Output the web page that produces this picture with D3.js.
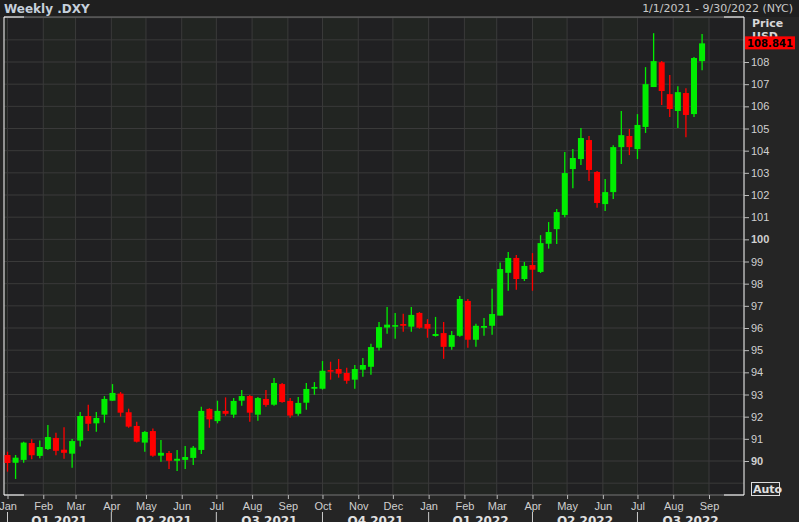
<!DOCTYPE html>
<html>
<head>
<meta charset="utf-8">
<script src="https://cdn.jsdelivr.net/npm/d3@7"></script>
<style>
  body { margin: 0; background: #252525; }
  svg { display: block; font-family: Tahoma, "DejaVu Sans", sans-serif; }
</style>
</head>
<body>
<div id="chart"></div>
<script>
// weekly OHLC, first week 1/1/2021
const opens = [90.27, 89.92, 90.05, 90.81, 90.23, 90.54, 91.04, 90.51, 90.33, 90.92, 92.03, 91.70, 92.09, 92.72, 93.04, 92.20, 91.58, 90.83, 91.35, 90.24, 90.36, 90.01, 90.05, 90.14,
  90.50, 92.35, 91.80, 92.26, 92.09, 92.72, 92.93, 92.09, 92.80, 92.54, 93.47, 92.71, 92.13, 92.63, 93.26, 93.26, 94.10, 94.15, 93.97, 93.67, 94.12, 94.25, 95.11, 96.02,
  96.06, 96.18, 96.06, 96.68, 96.18, 95.64, 95.77, 95.15, 95.65, 97.22, 95.47, 96.01, 96.10, 96.56, 98.49, 99.16, 98.21, 98.84, 98.53, 99.80, 100.46,
  101.10, 103.17, 103.62, 104.48, 103.04, 101.59, 102.13, 104.16, 104.66, 104.07, 105.07, 106.87, 107.99, 106.55, 105.79, 106.60, 105.65, 108.04];
const highs = [90.42, 90.27, 90.87, 90.98, 90.92, 91.62, 91.28, 91.52, 90.99, 92.21, 92.54, 92.21, 92.93, 93.47, 93.11, 92.36, 91.77, 91.35, 91.47, 90.95, 90.45, 90.50, 90.68, 90.68,
  92.45, 92.38, 92.72, 92.87, 92.84, 93.20, 92.98, 92.89, 93.20, 93.74, 93.52, 92.84, 92.89, 93.52, 93.56, 94.51, 94.48, 94.60, 94.21, 94.33, 94.65, 95.29, 96.27, 96.95,
  96.68, 96.64, 96.95, 96.72, 96.40, 96.50, 96.27, 95.86, 97.44, 97.31, 96.19, 96.45, 97.77, 98.95, 99.43, 99.29, 98.98, 99.38, 100.19, 100.78, 101.37,
  103.94, 104.07, 105.02, 104.66, 103.08, 102.72, 104.25, 105.79, 104.98, 105.65, 107.77, 109.30, 108.04, 107.41, 106.91, 106.82, 108.22, 109.26];
const lows = [89.52, 89.19, 89.92, 90.08, 90.12, 90.50, 90.26, 90.10, 89.70, 90.65, 91.35, 91.32, 91.73, 92.72, 92.00, 91.50, 90.83, 90.42, 90.19, 89.97, 89.64, 89.55, 89.64, 89.82,
  90.32, 91.50, 91.70, 92.04, 91.95, 92.49, 91.77, 91.82, 92.45, 92.49, 92.63, 91.95, 92.04, 92.31, 92.99, 93.22, 93.67, 93.76, 93.49, 93.26, 93.80, 93.89, 94.98, 95.74,
  95.52, 95.83, 95.83, 95.97, 95.56, 95.61, 94.61, 95.02, 95.61, 95.11, 95.15, 95.65, 95.70, 96.56, 97.68, 97.73, 98.12, 97.68, 98.48, 99.58, 99.79,
  101.00, 102.31, 103.35, 102.63, 101.43, 101.28, 101.82, 103.40, 103.80, 103.62, 104.80, 106.87, 106.06, 105.52, 105.02, 104.61, 105.52, 107.63];
const closes = [89.91, 90.15, 90.83, 90.26, 90.63, 91.08, 90.46, 90.37, 90.90, 92.03, 91.68, 91.94, 92.80, 93.07, 92.18, 91.55, 90.87, 91.31, 90.24, 90.37, 90.01, 90.10, 90.18, 90.60,
  92.26, 91.88, 92.26, 92.13, 92.71, 92.93, 92.18, 92.84, 92.53, 93.52, 92.66, 92.05, 92.62, 93.25, 93.34, 94.07, 94.06, 93.94, 93.62, 94.15, 94.33, 95.14, 96.04, 96.15,
  96.13, 96.10, 96.59, 96.01, 95.97, 95.73, 95.15, 95.68, 97.31, 95.47, 96.10, 96.09, 96.63, 98.66, 99.16, 98.21, 98.80, 98.63, 99.83, 100.33, 101.23,
  102.99, 103.67, 104.57, 103.13, 101.64, 102.13, 104.16, 104.70, 104.16, 105.16, 107.00, 108.04, 106.69, 105.88, 106.64, 105.61, 108.18, 108.841];
const priceTicks = [90, 91, 92, 93, 94, 95, 96, 97, 98, 99, 100, 101, 102, 103, 104, 105, 106, 107, 108];
const quarterLabels = ['Q1 2021', 'Q2 2021', 'Q3 2021', 'Q4 2021', 'Q1 2022', 'Q2 2022', 'Q3 2022'];

const W = 799, H = 522;
const pL = 4, pR = 744, pT = 17, pB = 495;
const start = new Date(2021, 0, 1);
const candles = opens.map((o, i) => ({
  date: d3.timeDay.offset(start, 7 * i), o, h: highs[i], l: lows[i], c: closes[i],
}));

const x = d3.scaleTime()
  .domain([new Date(2021, 0, 1), new Date(2022, 8, 1)])
  .range([7.5, 709]);
const y = d3.scaleLinear().domain([90, 108]).range([461, 62]);

const svg = d3.select('#chart').append('svg').attr('width', W).attr('height', H);
svg.append('rect').attr('width', W).attr('height', H).attr('fill', '#252525');
svg.append('rect').attr('width', W).attr('height', pT).attr('fill', '#1f1f1f');

// plot background, monthly bands
const plot = svg.append('g');
plot.append('rect').attr('x', pL).attr('y', pT).attr('width', pR - pL).attr('height', pB - pT)
  .attr('fill', '#202022');
const months = d3.timeMonth.range(new Date(2020, 11, 1), new Date(2022, 10, 1));
plot.selectAll('rect.band').data(months.filter((m, i) => i % 2 === 0)).enter().append('rect')
  .attr('class', 'band')
  .attr('x', d => Math.max(pL, x(d)))
  .attr('y', pT)
  .attr('width', d => Math.max(0, Math.min(pR, x(d3.timeMonth.offset(d, 1))) - Math.max(pL, x(d))))
  .attr('height', pB - pT)
  .attr('fill', '#222522');

const tickMonths = d3.timeMonth.range(new Date(2021, 0, 1), new Date(2022, 8, 2));
plot.selectAll('line.vg').data(tickMonths).enter().append('line')
  .attr('x1', d => x(d)).attr('x2', d => x(d)).attr('y1', pT).attr('y2', pB)
  .attr('stroke', '#3a3a3a');
plot.selectAll('line.hg').data(d3.range(89, 111)).enter().append('line')
  .attr('x1', pL).attr('x2', pR).attr('y1', d => y(d)).attr('y2', d => y(d))
  .attr('stroke', '#3a3a3a');

// frame
const frame = [
  [pL, pT, pR, pT, '#777'], [pL, pB, pR, pB, '#777'],
  [pL, pT, pL, pB, '#fff'], [pR, pT, pR, pB, '#fff'],
  [pL, pT, pL + 20, pT, '#fff'], [pL, pB, pL + 20, pB, '#fff'],
  [pR - 20, pB, pR, pB, '#fff'], [pR - 20, pT, pR, pT, '#fff'],
];
svg.selectAll('line.frame').data(frame).enter().append('line')
  .attr('x1', d => d[0]).attr('y1', d => d[1]).attr('x2', d => d[2]).attr('y2', d => d[3])
  .attr('stroke', d => d[4]);

// candles
const col = d => d.c >= d.o ? '#00ee00' : '#ff0000';
const cg = svg.append('g');
cg.selectAll('line').data(candles).enter().append('line')
  .attr('x1', d => x(d.date)).attr('x2', d => x(d.date))
  .attr('y1', d => y(d.h)).attr('y2', d => y(d.l))
  .attr('stroke', col).attr('stroke-width', 1.3);
cg.selectAll('rect').data(candles).enter().append('rect')
  .attr('x', d => x(d.date) - 3)
  .attr('width', 6)
  .attr('y', d => y(Math.max(d.o, d.c)))
  .attr('height', d => Math.max(1.5, Math.abs(y(d.o) - y(d.c))))
  .attr('fill', col);

// right axis
const ya = svg.append('g').attr('transform', `translate(${pR},0)`)
  .call(d3.axisRight(y).tickValues(priceTicks).tickSize(5).tickFormat(d3.format('d')));
ya.select('.domain').remove();
ya.selectAll('line').attr('stroke', '#bbb');
ya.selectAll('text').attr('fill', '#d0d0d0').attr('font-size', 11).attr('x', 7)
  .attr('font-weight', d => d % 10 === 0 ? 'bold' : 'normal');
svg.append('text').attr('x', 752).attr('y', 27).attr('fill', '#d8d8d8').attr('font-size', 11)
  .attr('font-weight', 'bold').text('Price');
svg.append('text').attr('x', 752).attr('y', 40).attr('fill', '#d8d8d8').attr('font-size', 11)
  .attr('font-weight', 'bold').text('USD');
const last = candles[candles.length - 1];
svg.append('rect').attr('x', 745).attr('y', y(last.c) - 7).attr('width', 50).attr('height', 13).attr('fill', '#ff0000');
svg.append('text').attr('x', 747).attr('y', y(last.c) + 4).attr('fill', '#000').attr('font-size', 11)
  .attr('font-weight', 'bold').attr('textLength', 46).attr('lengthAdjust', 'spacingAndGlyphs')
  .text(d3.format('.3f')(last.c));
svg.append('rect').attr('x', 751.5).attr('y', 482.5).attr('width', 28).attr('height', 13)
  .attr('fill', 'none').attr('stroke', '#ddd');
svg.append('text').attr('x', 753).attr('y', 493).attr('fill', '#e0e0e0').attr('font-size', 11)
  .attr('font-weight', 'bold').text('Auto');

// bottom axis
const xa = svg.append('g').attr('transform', `translate(0,${pB})`)
  .call(d3.axisBottom(x).tickValues(tickMonths).tickSize(4).tickFormat(d3.timeFormat('%b')));
xa.select('.domain').remove();
xa.selectAll('line').attr('stroke', '#bbb');
xa.selectAll('text').attr('fill', '#d0d0d0').attr('font-size', 11).attr('y', 7);

const quarters = d3.timeMonth.every(3).range(new Date(2021, 0, 1), new Date(2022, 9, 1));
svg.selectAll('line.qs').data(quarters).enter().append('line')
  .attr('x1', d => x(d)).attr('x2', d => x(d)).attr('y1', 512).attr('y2', 522)
  .attr('stroke', '#ccc');
svg.selectAll('text.q').data(quarters).enter().append('text')
  .attr('x', d => (x(d) + Math.min(x(d3.timeMonth.offset(d, 3)), pR)) / 2)
  .attr('y', 525).attr('text-anchor', 'middle').attr('fill', '#e0e0e0')
  .attr('font-size', 12).attr('font-weight', 'bold')
  .text((d, i) => quarterLabels[i]);

// titles
svg.append('text').attr('x', 4).attr('y', 13).attr('fill', '#c6d0dc').attr('font-size', 12)
  .attr('font-weight', 'bold').text('Weekly .DXY');
svg.append('text').attr('x', 793).attr('y', 12).attr('text-anchor', 'end').attr('fill', '#c8c8c8')
  .attr('font-size', 11).text('1/1/2021 - 9/30/2022 (NYC)');
</script>
</body>
</html>
